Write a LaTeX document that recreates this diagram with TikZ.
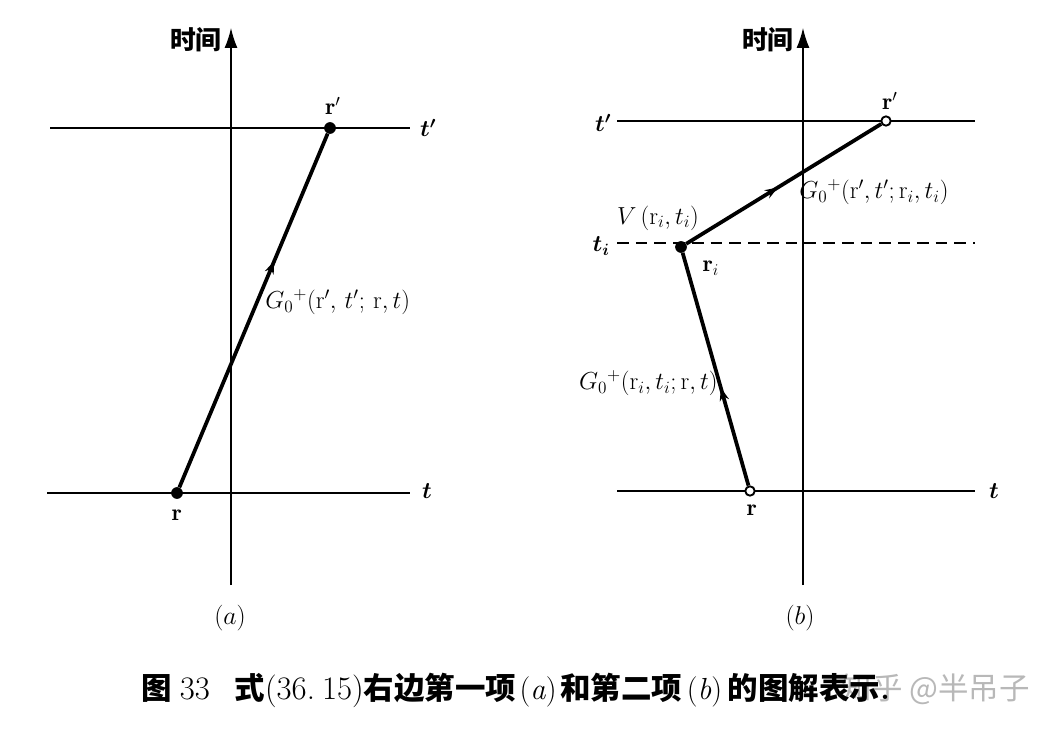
\RequirePackage{fix-cm}
\documentclass[tikz,border=0pt]{standalone}
\usepackage{fontspec}
\newfontfamily\cjk{Noto Sans CJK SC}
\usetikzlibrary{arrows.meta,decorations.markings}
\begin{document}
\begin{tikzpicture}[x=0.03cm,y=-0.03cm,
  axisline/.style={line width=1.1pt,-{Latex[length=17pt,width=11pt]}},
  tline/.style={line width=1.6pt},
  dline/.style={line width=1.6pt,dash pattern=on 10pt off 6pt},
  world/.style={line width=3.2pt},
  fdot/.style={circle,fill=black,inner sep=0pt,minimum size=10pt},
  odot/.style={circle,draw=black,fill=white,line width=1.6pt,inner sep=0pt,minimum size=8pt},
  midarrow/.style={postaction={decorate},decoration={markings,
     mark=at position #1 with {\arrow{Stealth[length=11pt,width=8pt]}}}},
  lbl/.style={font=\fontsize{20}{22}\selectfont,inner sep=1pt},
  glbl/.style={font=\fontsize{21}{24}\selectfont,inner sep=1pt},
  tlbl/.style={font=\fontsize{20}{24}\selectfont\boldmath,inner sep=1pt},
  cjklbl/.style={font=\cjk\bfseries\fontsize{22}{24}\selectfont,inner sep=1pt}]
\useasboundingbox (0,0) rectangle (1053,734);
\fill[white] (0,0) rectangle (1053,734);

% ---------- panel (a) ----------
\coordinate (aAxB) at (231,585);
\coordinate (aAxT) at (231,28);
\draw[axisline] (aAxB) -- (aAxT);
\node[cjklbl,anchor=east] (aTime) at (223,40) {时间};
\coordinate (aTL) at (50,128);
\coordinate (aTR) at (410,128);
\draw[tline] (aTL) -- (aTR);
\coordinate (aBL) at (47,493);
\coordinate (aBR) at (410,493);
\draw[tline] (aBL) -- (aBR);
\node[tlbl] (atp) at (428,128) {$t'$};
\node[tlbl] (at) at (427,491) {$t$};
\node[fdot] (ar) at (177,493) {};
\node[fdot] (arp) at (330,128) {};
\draw[world,midarrow=0.64] (ar) -- (arp);
\node[lbl] (arpl) at (333,106) {$\mathbf{r}'$};
\node[lbl] (arl) at (177,515) {$\mathbf{r}$};
\node[glbl,anchor=west] (aG) at (264,302) {$G_0{}^+(\mathrm{r}',\,t';\,\mathrm{r},t)$};
\node[lbl,font=\fontsize{22}{24}\selectfont] (acap) at (230,618) {$(a)$};

% ---------- panel (b) ----------
\coordinate (bAxB) at (803,585);
\coordinate (bAxT) at (803,28);
\draw[axisline] (bAxB) -- (bAxT);
\node[cjklbl,anchor=east] (bTime) at (795,40) {时间};
\coordinate (bTL) at (617,121);
\coordinate (bTR) at (975,121);
\draw[tline] (bTL) -- (bTR);
\coordinate (bML) at (617,243);
\coordinate (bMR) at (975,243);
\draw[dline] (bML) -- (bMR);
\coordinate (bBL) at (617,491);
\coordinate (bBR) at (975,491);
\draw[tline] (bBL) -- (bBR);
\node[tlbl] (btp) at (603,123) {$t'$};
\node[tlbl] (bti) at (601,246) {$t_i$};
\node[tlbl] (bt) at (994,491) {$t$};
\node[fdot] (bv) at (681,247) {};
\node[odot] (brp) at (886,121) {};
\node[odot] (br) at (750,491) {};
\draw[world,midarrow=0.42] (br) -- (bv);
\draw[world,midarrow=0.47] (bv) -- (brp);
\node[lbl] (brpl) at (890,101) {$\mathbf{r}'$};
\node[lbl] (brl) at (752,510) {$\mathbf{r}$};
\node[lbl] (bril) at (711,268) {$\mathbf{r}_i$};
\node[glbl] (bVl) at (658,218) {$V\,(\mathrm{r}_i,t_i)$};
\node[glbl,anchor=west] (bG1) at (798,192) {$G_0{}^+(\mathrm{r}',t';\mathrm{r}_i,t_i)$};
\node[glbl,anchor=east] (bG2) at (719,383) {$G_0{}^+(\mathrm{r}_i,t_i;\mathrm{r},t)$};
\node[lbl,font=\fontsize{22}{24}\selectfont] (bcap) at (800,618) {$(b)$};

% ---------- caption ----------
\node[anchor=east,font=\cjk\fontsize{26}{28}\selectfont,text=black!28,inner sep=0pt] (wm) at (1030,689) {知乎 @半吊子};
\node[anchor=west,font=\cjk\bfseries\fontsize{26}{30}\selectfont,inner sep=0pt] (cap) at (141,690)
  {图\hspace{7pt}{\rmfamily\mdseries\fontsize{28}{30}\selectfont 33}\hspace{21pt}式{\rmfamily\mdseries\fontsize{28}{30}\selectfont (36.\hspace{6pt}15)}右边第一项\hspace{3pt}{\rmfamily\mdseries\fontsize{26}{28}\selectfont(\textit{a})}\hspace{3pt}和第二项\hspace{4pt}{\rmfamily\mdseries\fontsize{26}{28}\selectfont(\textit{b})}\hspace{5pt}的图解表示{\rmfamily\bfseries .}};
\end{tikzpicture}
\end{document}
